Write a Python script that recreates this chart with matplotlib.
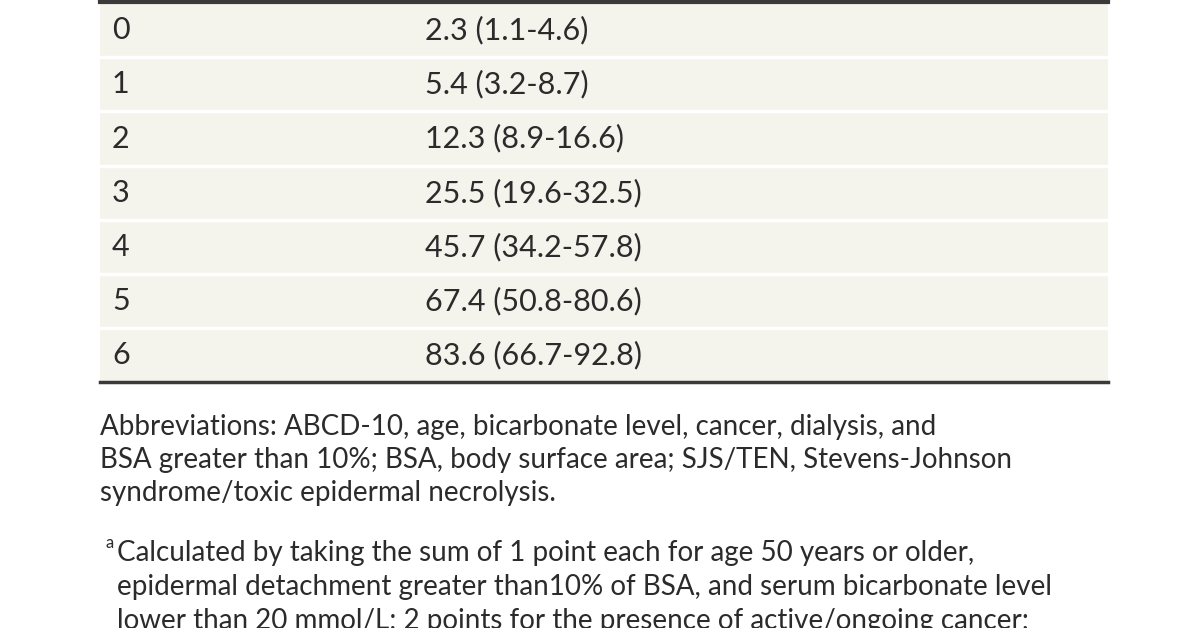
import matplotlib
matplotlib.use("Agg")
import matplotlib.pyplot as plt
from matplotlib.patches import Rectangle

scores = ["0", "1", "2", "3", "4", "5", "6"]
risks = ["2.3 (1.1-4.6)", "5.4 (3.2-8.7)", "12.3 (8.9-16.6)", "25.5 (19.6-32.5)",
         "45.7 (34.2-57.8)", "67.4 (50.8-80.6)", "83.6 (66.7-92.8)"]
notes1 = ["Abbreviations: ABCD-10, age, bicarbonate level, cancer, dialysis, and",
          "BSA greater than 10%; BSA, body surface area; SJS/TEN, Stevens-Johnson",
          "syndrome/toxic epidermal necrolysis."]
notes2 = ["Calculated by taking the sum of 1 point each for age 50 years or older,",
          "epidermal detachment greater than10% of BSA, and serum bicarbonate level",
          "lower than 20 mmol/L; 2 points for the presence of active/ongoing cancer;"]

fig = plt.figure(figsize=(12, 6.28), dpi=100)
ax = fig.add_axes([0, 0, 1, 1])
ax.set_xlim(0, 1200)
ax.set_ylim(628, 0)
ax.axis("off")

FONT = "Lato"
x0, x1 = 100, 1108
top, rh = 3, 54.2
tc = "#2b2b2b"
for i, (s, r) in enumerate(zip(scores, risks)):
    y = top + i * rh
    ax.add_patch(Rectangle((x0, y), x1 - x0, rh, facecolor="#f4f3ec", edgecolor="none"))
    if i > 0:
        ax.plot([x0, x1], [y, y], color="white", lw=2.5)
    ax.text(112, y + rh / 2, s, fontsize=22, family=FONT, color=tc, va="center")
    ax.text(425, y + rh / 2, r, fontsize=22, family=FONT, color=tc, va="center")
ax.plot([x0, x1], [1.5, 1.5], color="#3a3a3a", lw=3)
bottom = top + len(scores) * rh
ax.plot([x0, x1], [bottom, bottom], color="#3a3a3a", lw=2.5)

for j, line in enumerate(notes1):
    ax.text(100, 427 + j * 33, line, fontsize=20, family=FONT, color=tc, va="center")
ax.text(105, 543, "a", fontsize=12, family=FONT, color=tc, va="center")
for j, line in enumerate(notes2):
    ax.text(117, 553 + j * 34, line, fontsize=20, family=FONT, color=tc, va="center")

fig.savefig("out.png", dpi=100)
